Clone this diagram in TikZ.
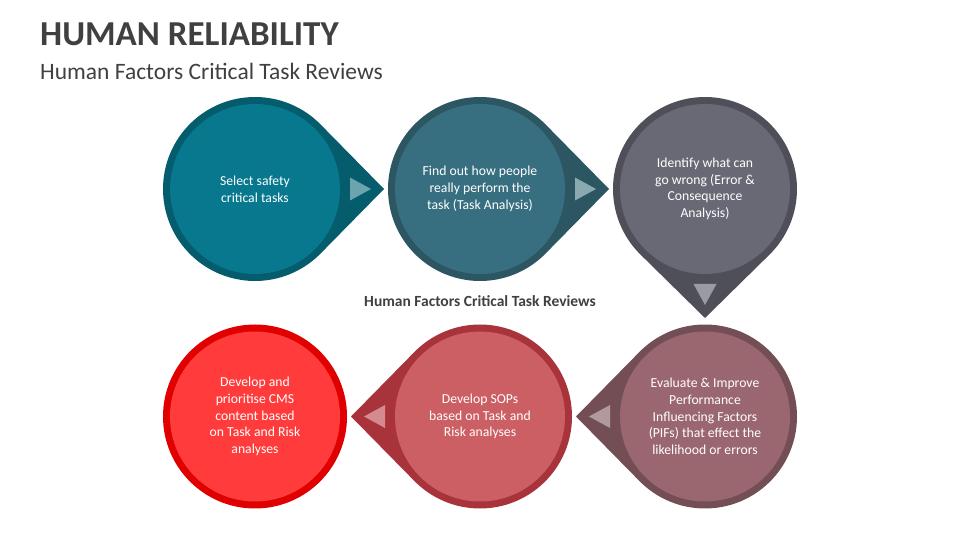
\documentclass[tikz,border=0pt]{standalone}
\usepackage{fontspec}
\setmainfont{Carlito}
\definecolor{titlegray}{HTML}{404040}
\definecolor{oA}{HTML}{045C6C}\definecolor{iA}{HTML}{07788E}\definecolor{tA}{HTML}{6BA3AE}
\definecolor{oB}{HTML}{2B5662}\definecolor{iB}{HTML}{386F80}\definecolor{tB}{HTML}{8AAAB2}
\definecolor{oC}{HTML}{4F4F59}\definecolor{iC}{HTML}{686975}\definecolor{tC}{HTML}{9A9AA2}
\definecolor{oD}{HTML}{744E55}\definecolor{iD}{HTML}{9A666F}\definecolor{tD}{HTML}{B09A9E}
\definecolor{oE}{HTML}{A8333A}\definecolor{iE}{HTML}{CC5F63}\definecolor{tE}{HTML}{D48A8E}
\definecolor{oF}{HTML}{E00000}\definecolor{iF}{HTML}{FF3B3B}
\tikzset{
  steptext/.style={text=white, align=center, font=\fontsize{13.7}{16.7}\selectfont, inner sep=0pt},
}
% #1 center, #2 rotation, #3 outer, #4 inner, #5 triangle colour
\newcommand{\dropshape}[5]{%
  \begin{scope}[shift={#1}, rotate=#2]
    \fill[#3] (129,0) -- (44.5:92) arc[start angle=44.5, end angle=315.5, radius=92] -- cycle;
    \fill[#4] (0,0) circle[radius=85];
    \fill[#5] (95,11.5) -- (116,0) -- (95,-11.5) -- cycle;
  \end{scope}}
\begin{document}
\begin{tikzpicture}[x=1pt,y=1pt]
\useasboundingbox (0,0) rectangle (960,540);
\fill[white] (0,0) rectangle (960,540);
\node[anchor=base west, inner sep=0pt, text=titlegray, font=\fontsize{35}{40}\selectfont\bfseries] (title) at (40,494) {HUMAN RELIABILITY};
\node[anchor=base west, inner sep=0pt, text=titlegray, font=\fontsize{23.5}{28}\selectfont] (subtitle) at (40,460) {Human Factors Critical Task Reviews};

\dropshape{(255,351)}{0}{oA}{iA}{tA}
\dropshape{(480,351)}{0}{oB}{iB}{tB}
\dropshape{(705,351)}{-90}{oC}{iC}{tC}
\dropshape{(705,123.5)}{180}{oD}{iD}{tD}
\dropshape{(480,123.5)}{180}{oE}{iE}{tE}
\fill[oF] (255,123.5) circle[radius=92];
\fill[iF] (255,123.5) circle[radius=85];

\node[steptext] (s1) at (255,351) {Select safety\\critical tasks};
\node[steptext] (s2) at (480,351) {Find out how people\\really perform the\\task (Task Analysis)};
\node[steptext] (s3) at (705,351) {Identify what can\\go wrong (Error \&\\Consequence\\Analysis)};
\node[steptext] (s4) at (705,123.5) {Evaluate \& Improve\\Performance\\Influencing Factors\\(PIFs) that effect the\\likelihood or errors};
\node[steptext] (s5) at (480,123.5) {Develop SOPs\\based on Task and\\Risk analyses};
\node[steptext] (s6) at (255,123.5) {Develop and\\prioritise CMS\\content based\\on Task and Risk\\analyses};

\node[text=titlegray, font=\fontsize{15.5}{18}\selectfont\bfseries, inner sep=0pt] (center) at (480,239) {Human Factors Critical Task Reviews};
\end{tikzpicture}
\end{document}
